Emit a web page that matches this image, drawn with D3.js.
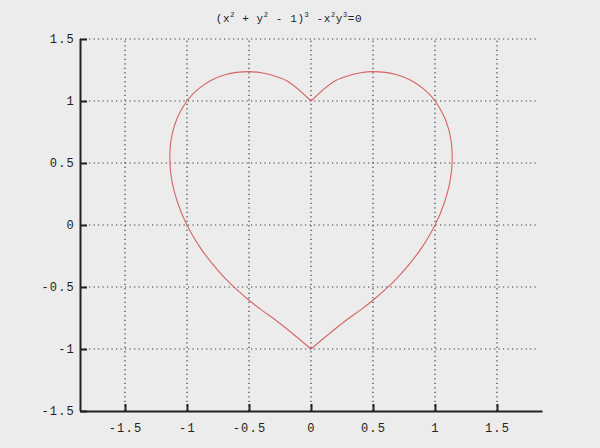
<!DOCTYPE html>
<html>
<head>
<meta charset="utf-8">
<script src="https://cdn.jsdelivr.net/npm/d3@7"></script>
<style>
  html, body { margin: 0; padding: 0; background: #ececec; }
  svg { display: block; }
  text { font-family: "Liberation Mono", "DejaVu Sans Mono", monospace; fill: #222; }
</style>
</head>
<body>
<svg id="chart" width="600" height="448"></svg>
<script>
// Right half of the heart curve (x >= 0), from the top cusp round to the bottom cusp
const heartX = [0, 0.2, 0.3, 0.4, 0.5, 0.6, 0.7, 0.8, 0.9, 0.95, 1.0, 1.05, 1.1, 1.12, 1.13, 1.135, 1.139,
                1.135, 1.13, 1.12, 1.1, 1.05, 1.0, 0.95, 0.9, 0.8, 0.7, 0.6, 0.5, 0.4, 0.3, 0];
const heartY = [1, 1.1656, 1.2040, 1.2273, 1.2365, 1.2312, 1.2099, 1.1696, 1.1043, 1.0586, 1.0, 0.9219, 0.8046, 0.7301, 0.6742, 0.6322, 0.5453,
                0.4559, 0.4108, 0.3485, 0.2610, 0.1112, 0, -0.0921, -0.1720, -0.3078, -0.4215, -0.5198, -0.6065, -0.6844, -0.7559, -1];

const xTickValues = [-1.5, -1, -0.5, 0, 0.5, 1, 1.5];
const xTickLabels = ["-1.5", "-1", "-0.5", "0", "0.5", "1", "1.5"];
const yTickValues = [-1.5, -1, -0.5, 0, 0.5, 1, 1.5];
const yTickLabels = ["-1.5", "-1", "-0.5", "0", "0.5", "1", "1.5"];
const xDomain = [-1.863, 1.863];
const yDomain = [-1.5, 1.5];

const svg = d3.select("#chart");
const mLeft = 80, mRight = 542, mTop = 39, mBottom = 411;

const x = d3.scaleLinear().domain(xDomain).range([mLeft, mRight]);
const y = d3.scaleLinear().domain(yDomain).range([mBottom, mTop]);

// grid
const grid = svg.append("g").attr("stroke", "#3a3a3a").attr("stroke-width", 1.2)
  .attr("stroke-dasharray", "1.2,3.3");
grid.selectAll(".vg").data(xTickValues).enter().append("line")
  .attr("x1", d => x(d)).attr("x2", d => x(d))
  .attr("y1", mBottom).attr("y2", mTop);
grid.selectAll(".hg").data(yTickValues.filter(v => v > yDomain[0])).enter().append("line")
  .attr("x1", mLeft).attr("x2", 538)
  .attr("y1", d => y(d)).attr("y2", d => y(d));

// heart: split each half into upper and lower branches (both monotone in x)
const pts = heartX.map((v, i) => [v, heartY[i]]);
const iMax = d3.maxIndex(heartX);
const upper = pts.slice(0, iMax + 1);
const lower = pts.slice(iMax).reverse();
const branches = [upper, lower];
const line = d3.line().curve(d3.curveMonotoneX);
const heartG = svg.append("g").attr("fill", "none").attr("stroke", "#d66464")
  .attr("stroke-width", 1.1).attr("stroke-linejoin", "round");
branches.forEach(b => {
  heartG.append("path").attr("d", line(b.map(p => [x(p[0]), y(p[1])])));
  heartG.append("path").attr("d", line(b.map(p => [x(-p[0]), y(p[1])]).reverse()));
});

// axes
const xAxis = d3.axisBottom(x).tickValues(xTickValues)
  .tickFormat((d, i) => xTickLabels[i]).tickSizeInner(-7).tickSizeOuter(0).tickPadding(12);
const yAxis = d3.axisLeft(y).tickValues(yTickValues)
  .tickFormat((d, i) => yTickLabels[i]).tickSizeInner(-7).tickSizeOuter(0).tickPadding(5);

const gx = svg.append("g").attr("transform", `translate(0,${mBottom})`).call(xAxis);
const gy = svg.append("g").attr("transform", `translate(${mLeft},0)`).call(yAxis);
[gx, gy].forEach(g => {
  g.select(".domain").attr("stroke", "#222").attr("stroke-width", 2);
  g.selectAll(".tick line").attr("stroke", "#222").attr("stroke-width", 2);
  g.selectAll(".tick text").attr("font-family", "Liberation Mono, DejaVu Sans Mono, monospace")
    .attr("font-size", 12).attr("letter-spacing", "1.2px").attr("fill", "#222");
});
gy.select(".domain").attr("d", `M0.5,${mBottom}V${mTop}`);

// title: (x² + y² - 1)³ -x²y³=0
const title = svg.append("text").attr("x", 289).attr("y", 22).attr("text-anchor", "middle")
  .attr("font-size", 11).attr("letter-spacing", "0.6px");
const parts = [["(x", 0], ["2", 1], [" + y", 0], ["2", 1], [" - 1)", 0], ["3", 1], [" -x", 0], ["2", 1], ["y", 0], ["3", 1], ["=0", 0]];
let prevSup = 0;
parts.forEach(([t, s]) => {
  const ts = title.append("tspan").text(t);
  if (s) { ts.attr("font-size", 7).attr("dy", prevSup ? 0 : -5); }
  else { ts.attr("dy", prevSup ? 5 : 0); }
  prevSup = s;
});
</script>
</body>
</html>
